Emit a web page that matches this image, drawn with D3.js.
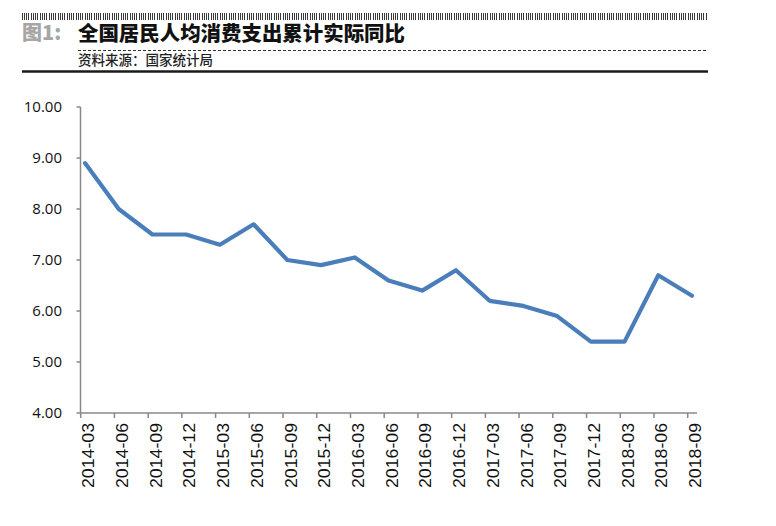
<!DOCTYPE html>
<html>
<head>
<meta charset="utf-8">
<script src="https://cdn.jsdelivr.net/npm/d3@7"></script>
<style>
  html, body { margin: 0; padding: 0; background: #fff; }
  svg { display: block; }
</style>
</head>
<body>
<script>
// ---- data ----
const categories = ["2014-03","2014-06","2014-09","2014-12","2015-03","2015-06","2015-09","2015-12",
  "2016-03","2016-06","2016-09","2016-12","2017-03","2017-06","2017-09","2017-12","2018-03","2018-06","2018-09"];
const values = [8.9, 8.0, 7.5, 7.5, 7.3, 7.7, 7.0, 6.9, 7.05, 6.6, 6.4, 6.8, 6.2, 6.1, 5.9, 5.4, 5.4, 6.7, 6.3];
const yTicks = [4, 5, 6, 7, 8, 9, 10];
const figLabel = "图1:";
const title = "全国居民人均消费支出累计实际同比";
const source = "资料来源：国家统计局";

const W = 776, H = 526;
const svg = d3.select("body").append("svg").attr("width", W).attr("height", H);

// ---- header ----
const stripeG = svg.append("g");
const stripeX0 = 22, stripeX1 = 708;
d3.range(stripeX0, stripeX1, 9).forEach(g0 => {
  [0, 2, 4, 6].forEach(o => {
    if (g0 + o < stripeX1) {
      stripeG.append("rect").attr("x", g0 + o).attr("y", 13).attr("width", 1).attr("height", 7).attr("fill", "#3a3a3a");
    }
  });
});

svg.append("text").attr("x", 22).attr("y", 40)
  .attr("font-family", "'Noto Sans CJK SC', sans-serif").attr("font-weight", 900)
  .attr("font-size", 20).attr("fill", "#a6a6a6").text(figLabel);
svg.append("text").attr("x", 78).attr("y", 41)
  .attr("font-family", "'Noto Sans CJK SC', sans-serif").attr("font-weight", 900)
  .attr("font-size", 20).attr("fill", "#111").attr("textLength", 327).attr("lengthAdjust", "spacingAndGlyphs").text(title);
svg.append("line").attr("x1", 78).attr("x2", 708).attr("y1", 50.5).attr("y2", 50.5)
  .attr("stroke", "#333").attr("stroke-width", 1).attr("stroke-dasharray", "3,2");
svg.append("text").attr("x", 78).attr("y", 65)
  .attr("font-family", "'Noto Sans CJK SC', sans-serif").attr("font-weight", 500)
  .attr("font-size", 13.5).attr("fill", "#222").text(source);
svg.append("line").attr("x1", 22).attr("x2", 708).attr("y1", 71.5).attr("y2", 71.5)
  .attr("stroke", "#1a1a1a").attr("stroke-width", 2.5);

// ---- scales ----
const x = d3.scalePoint().domain(categories).range([85, 692]);
const y = d3.scaleLinear().domain([4, 10]).range([413, 107]);
const axisColor = "#888";
const axisX0 = 80.5, axisX1 = 697;

// y axis
const yAxis = svg.append("g");
yAxis.append("line").attr("x1", axisX0).attr("x2", axisX0).attr("y1", y(10)).attr("y2", y(4))
  .attr("stroke", axisColor).attr("stroke-width", 1.5);
yTicks.forEach(t => {
  yAxis.append("line").attr("x1", axisX0 - 4).attr("x2", axisX0).attr("y1", y(t)).attr("y2", y(t))
    .attr("stroke", axisColor).attr("stroke-width", 1.5);
  yAxis.append("text").attr("x", 62).attr("y", y(t)).attr("dy", "0.36em")
    .attr("text-anchor", "end").attr("font-family", "'Open Sans', sans-serif")
    .attr("font-size", 15).attr("fill", "#111").text(d3.format(".2f")(t));
});

// x axis
const xAxis = svg.append("g");
xAxis.append("line").attr("x1", axisX0).attr("x2", axisX1).attr("y1", y(4)).attr("y2", y(4))
  .attr("stroke", axisColor).attr("stroke-width", 1.5);
categories.forEach(c => {
  const tx = x(c) - 4.3;
  xAxis.append("line").attr("x1", tx).attr("x2", tx).attr("y1", y(4)).attr("y2", y(4) + 5)
    .attr("stroke", axisColor).attr("stroke-width", 1.5);
  xAxis.append("text")
    .attr("transform", `translate(${tx + 13.5},${y(4) + 10}) rotate(-90)`)
    .attr("text-anchor", "end").attr("font-family", "'Liberation Sans', Arial, sans-serif")
    .attr("font-size", 16.5).attr("fill", "#111")
    .attr("textLength", 65).attr("lengthAdjust", "spacingAndGlyphs").text(c);
});

// line
const line = d3.line().x((d, i) => x(categories[i])).y(d => y(d));
svg.append("path").datum(values).attr("d", line)
  .attr("fill", "none").attr("stroke", "#4a7ebb").attr("stroke-width", 4.2)
  .attr("stroke-linejoin", "round").attr("stroke-linecap", "round");
</script>
</body>
</html>
